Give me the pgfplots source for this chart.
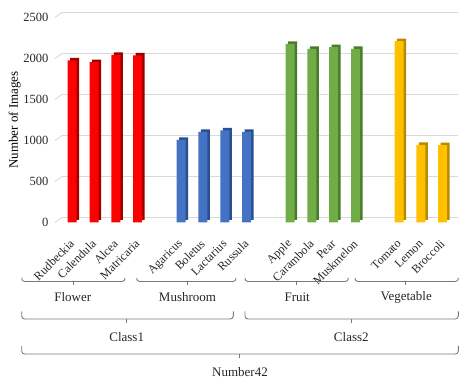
\documentclass[border=0pt]{standalone}
\usepackage{fontspec}
\setmainfont{Liberation Serif}
\usepackage{pgfplots}
\pgfplotsset{compat=1.18}
\definecolor{cRed}{HTML}{FF0000}
\definecolor{cRedD}{HTML}{A00000}
\definecolor{cBlue}{HTML}{4472C4}
\definecolor{cBlueD}{HTML}{2A4F8F}
\definecolor{cGreen}{HTML}{70AD47}
\definecolor{cGreenD}{HTML}{4A7A2C}
\definecolor{cYel}{HTML}{FFC000}
\definecolor{cYelD}{HTML}{B88A00}
\definecolor{gridc}{HTML}{D9D9D9}
\definecolor{brk}{HTML}{7A7A7A}
\newcommand{\bracket}[6]{%
  \draw[brk, line width=0.9pt, rounded corners=3pt] (#1,#4) -- (#1,#5) -- (#2,#5) -- (#2,#4);
  \draw[brk, line width=0.9pt] (#3,#5) -- (#3,#6);}
\begin{document}
\begin{tikzpicture}
\useasboundingbox (0,0) rectangle (474pt,382pt);
\begin{axis}[
  at={(55pt,159.5pt)}, anchor=south west,
  scale only axis, width=396pt, height=205pt,
  xmin=-0.79, xmax=17.38, ymin=0, ymax=2500,
  axis line style={draw=none}, tick style={draw=none},
  ymajorgrids, grid style={gridc, line width=0.9pt, xshift=7pt, yshift=5pt},
  ytick={0,500,1000,1500,2000,2500},
  yticklabel style={font=\fontsize{12.5}{14}\selectfont, xshift=-3pt},
  /pgf/number format/assume math mode=true,
  /pgf/number format/1000 sep={},
  xtick={0,1,2,3,5,6,7,8,10,11,12,13,15,16,17},
  xticklabels={Rudbeckia,Calendula,Alcea,Matricaria,Agaricus,Boletus,Lactarius,Russula,Apple,Carambola,Pear,Muskmelon,Tomato,Lemon,Broccoli},
  xticklabel style={font=\fontsize{12}{13}\selectfont, inner sep=0pt, yshift=-15pt, xshift=0pt, rotate=45, anchor=east},
  ylabel={Number of Images},
  ylabel style={font=\fontsize{13}{15}\selectfont, at={(axis description cs:-0.1018,0.5)}, anchor=center},
  ybar, bar width=9pt,
  ticklabel style={text=black!85},
]
% side faces (3D look)
\addplot[fill=cRedD, draw=none, bar shift=2.5pt, yshift=2.5pt] coordinates {(0,1976) (1,1955) (2,2045) (3,2037)};
\addplot[fill=cBlueD, draw=none, bar shift=2.5pt, yshift=2.5pt] coordinates {(5,1009) (6,1106) (7,1122) (8,1106)};
\addplot[fill=cGreenD, draw=none, bar shift=2.5pt, yshift=2.5pt] coordinates {(10,2179) (11,2118) (12,2138) (13,2118)};
\addplot[fill=cYelD, draw=none, bar shift=2.5pt, yshift=2.5pt] coordinates {(15,2211) (16,948) (17,943)};
% front faces
\addplot[fill=cRed, draw=none, bar shift=0pt] coordinates {(0,1976) (1,1955) (2,2045) (3,2037)};
\addplot[fill=cBlue, draw=none, bar shift=0pt] coordinates {(5,1009) (6,1106) (7,1122) (8,1106)};
\addplot[fill=cGreen, draw=none, bar shift=0pt] coordinates {(10,2179) (11,2118) (12,2138) (13,2118)};
\addplot[fill=cYel, draw=none, bar shift=0pt] coordinates {(15,2211) (16,948) (17,943)};
\end{axis}
\begin{scope}[shift={(0pt,382pt)}, x=1pt, y=-1pt]
  % slanted grid ends
  \foreach \yy in {17.5,58.5,99.5,140.5,181.5,222.5}
    \draw[gridc, line width=0.9pt] (55,\yy) -- (62,\yy-5);
  \bracket{21.7}{125}{73.3}{278}{281.5}{285.5}
  \bracket{136.7}{236}{187.7}{278}{281.5}{285.5}
  \bracket{245}{348.3}{296.7}{278}{281.5}{285.5}
  \bracket{355}{458.3}{405.7}{278}{281.5}{285.5}
  \bracket{21.7}{233.3}{126.7}{311.5}{319}{323.5}
  \bracket{245}{458.3}{351.7}{311.5}{319}{323.5}
  \bracket{21.7}{458.3}{239.3}{346}{354}{358.5}
  \begin{scope}[every node/.style={font=\fontsize{13}{15}\selectfont, text=black!85}]
  \node at (72.8,297.3) {Flower};
  \node at (187.5,297.3) {Mushroom};
  \node at (297.2,297.3) {Fruit};
  \node at (406.2,297.3) {Vegetable};
  \node at (126.7,337.3) {Class1};
  \node at (351.3,337.3) {Class2};
  \node at (240,371.7) {Number42};
  \end{scope}
\end{scope}
\end{tikzpicture}
\end{document}
